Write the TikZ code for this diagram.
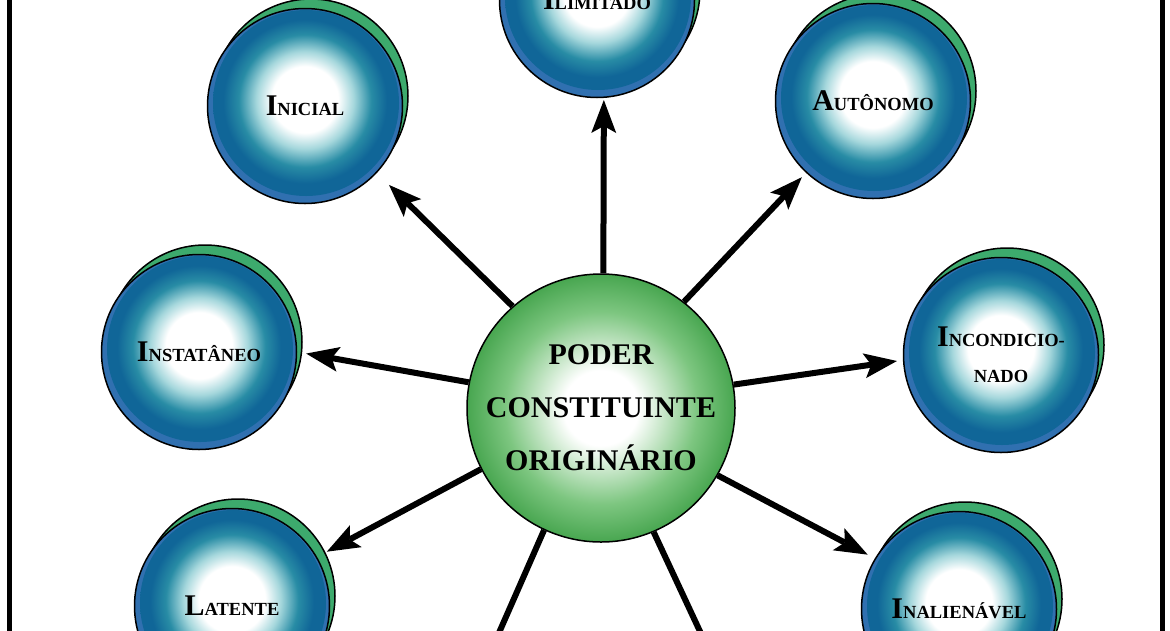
\documentclass[tikz,border=0pt]{standalone}
\usepackage{fontspec}
\setmainfont{Liberation Serif}
\usetikzlibrary{arrows.meta,calc}
\definecolor{greenc}{RGB}{61,170,109}
\definecolor{rimblue}{RGB}{48,112,176}
\definecolor{bluec}{RGB}{16,102,152}
\definecolor{tealm}{RGB}{40,140,165}
\definecolor{teall}{RGB}{165,215,220}
\definecolor{greenl}{RGB}{125,198,128}
\definecolor{greend}{RGB}{72,166,80}
\pgfdeclareradialshading{sphere}{\pgfpoint{0bp}{2bp}}{color(0bp)=(white); color(8.5bp)=(white); color(12.5bp)=(teall); color(17bp)=(tealm); color(21bp)=(bluec); color(25bp)=(bluec); color(50bp)=(bluec)}
\pgfdeclareradialshading{greenball}{\pgfpoint{0bp}{0bp}}{color(0bp)=(white); color(7bp)=(white); color(18bp)=(greenl); color(25bp)=(greend); color(50bp)=(greend)}
\pgfdeclarelayer{back}
\pgfsetlayers{back,main}
\newcommand\mysc[2]{{\fontsize{30}{30}\selectfont #1}{\fontsize{18.5}{18.5}\selectfont #2}}
\begin{document}
\begin{tikzpicture}[x=1pt,y=-1pt,
 sat/.style={circle, draw=black, line width=1.5pt, fill=rimblue, minimum size=195pt, inner sep=0pt, align=center,
   font=\bfseries\fontsize{18.5}{36}\selectfont,
   path picture={\shade[shading=sphere] ([xshift=1pt,yshift=3pt]path picture bounding box.center) circle (93pt);}},
 crescent/.style={draw=black, line width=1.5pt, fill=greenc},
 hub/.style={circle, draw=black, line width=1.5pt, shading=greenball, minimum size=268pt, inner sep=0pt, align=center,
   font=\bfseries\fontsize{30}{53}\selectfont},
 arr/.style={line width=6pt, -{Stealth[length=33pt,width=25pt,inset=7pt,line width=0pt]}},
 boxline/.style={line width=5pt}]
\useasboundingbox (0,0) rectangle (1170,630);
\clip (0,0) rectangle (1170,630);
\draw[boxline] (9.5,-20) rectangle (1162,650);

\node[hub] (c) at (601,408) {PODER\\CONSTITUINTE\\ORIGINÁRIO};
\node[sat] (ini) at (305,106) {\mysc{I}{NICIAL}};
\node[sat] (ili) at (597,0) {\mysc{I}{LIMITADO}};
\node[sat] (aut) at (873,101) {\mysc{A}{UTÔNOMO}};
\node[sat] (inc) at (1001,355) {\mysc{I}{NCONDICIO-}\\NADO};
\node[sat] (ina) at (959,609) {\mysc{I}{NALIENÁVEL}};
\node[sat] (lat) at (232,606) {\mysc{L}{ATENTE}};
\node[sat] (ins) at (199,352) {\mysc{I}{NSTATÂNEO}};

\begin{pgfonlayer}{back}
\foreach \n in {ini,ili,aut,inc,ina,lat,ins}
  \draw[crescent] ([shift={(6pt,10pt)}]\n.center) circle (97pt);
\end{pgfonlayer}

\draw[arr, shorten >=2pt] (c.89) -- (ili.-86);
\draw[arr, shorten >=17pt] (c.131) -- (ini.-43);
\draw[arr, shorten >=6pt] (c.52) -- (aut.-133);
\draw[arr, shorten >=6pt] (c.10) -- (inc.183);
\draw[arr, shorten >=8pt] (c.-30) -- (ina.149);
\draw[arr, shorten >=11pt] (c.207) -- (lat.30);
\draw[arr, shorten >=9pt] (c.169) -- (ins.0);
\coordinate (bl) at ($(c.-115)+(-113.7:250pt)$);
\coordinate (br) at ($(c.-67)+(-65:250pt)$);
\draw[arr] (c.-115) -- (bl);
\draw[arr] (c.-67) -- (br);
\end{tikzpicture}
\end{document}
